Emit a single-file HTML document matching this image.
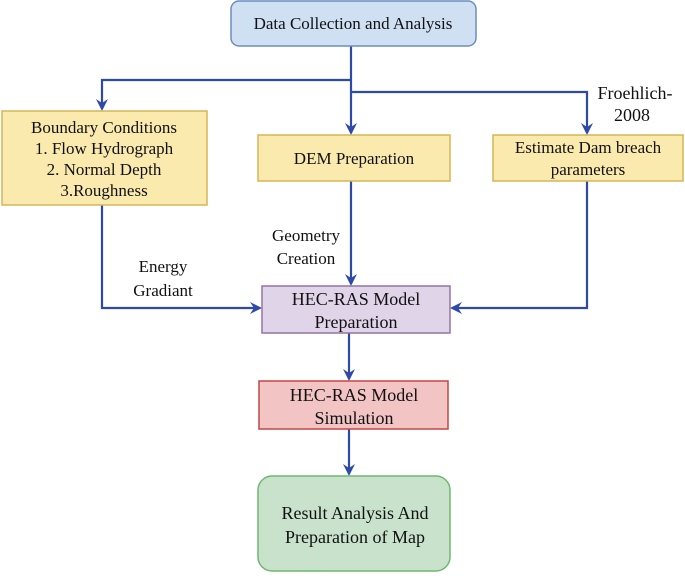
<!DOCTYPE html>
<html><head><style>
body{margin:0;background:#fff}
text{font-family:'Liberation Serif','Times New Roman',Times,serif}
</style></head><body>
<svg width="685" height="573" viewBox="0 0 685 573" xmlns="http://www.w3.org/2000/svg">
<defs><marker id="a" markerWidth="12" markerHeight="12" refX="10" refY="6" orient="auto" markerUnits="userSpaceOnUse"><path d="M0,0 L12,6 L0,12 L4,6 z" fill="#2e4aa8"/></marker></defs>
<g stroke="#2e4aa8" stroke-width="2.2" fill="none">
<path d="M351,46 V133" marker-end="url(#a)"/>
<path d="M351,80 H102 V109" marker-end="url(#a)"/>
<path d="M351,92 H587 V133" marker-end="url(#a)"/>
<path d="M351,181 V284" marker-end="url(#a)"/>
<path d="M102,205 V308 H260" marker-end="url(#a)"/>
<path d="M587,181 V308 H452" marker-end="url(#a)"/>
<path d="M349,333 V379" marker-end="url(#a)"/>
<path d="M349,429 V474" marker-end="url(#a)"/>
</g>
<rect x="231" y="1" width="245" height="45" rx="8" fill="#cfe0f3" stroke="#6c8ebf" stroke-width="1.5"/>
<rect x="2" y="111" width="205" height="94" fill="#fbeaae" stroke="#d6b656" stroke-width="1.5"/>
<rect x="258" y="135" width="192" height="46" fill="#fbeaae" stroke="#d6b656" stroke-width="1.5"/>
<rect x="493" y="135" width="190" height="46" fill="#fbeaae" stroke="#d6b656" stroke-width="1.5"/>
<rect x="262" y="286" width="188" height="47" fill="#e0d4e8" stroke="#9673a6" stroke-width="1.5"/>
<rect x="259" y="381" width="189" height="48" fill="#f2c4c4" stroke="#c74545" stroke-width="1.5"/>
<rect x="258" y="476" width="192" height="95" rx="14" fill="#c8e2cc" stroke="#6fb86f" stroke-width="1.5"/>
<g font-size="17" fill="#111" text-anchor="middle">
<text x="353" y="29">Data Collection and Analysis</text>
<text x="104" y="133">Boundary Conditions</text>
<text x="104" y="154">1. Flow Hydrograph</text>
<text x="104" y="175">2. Normal Depth</text>
<text x="104" y="196">3.Roughness</text>
<text x="354" y="164">DEM Preparation</text>
<text x="588" y="153">Estimate Dam breach</text>
<text x="588" y="175">parameters</text>
<text x="635" y="99" font-size="18">Froehlich-</text>
<text x="632" y="121" font-size="18">2008</text>
<text x="306" y="241">Geometry</text>
<text x="306" y="264">Creation</text>
<text x="163" y="272">Energy</text>
<text x="163" y="296">Gradiant</text>
<text x="356" y="305" font-size="18">HEC-RAS Model</text>
<text x="356" y="328" font-size="18">Preparation</text>
<text x="354" y="401" font-size="18">HEC-RAS Model</text>
<text x="354" y="424" font-size="18">Simulation</text>
<text x="355" y="519" font-size="18">Result Analysis And</text>
<text x="355" y="543" font-size="18">Preparation of Map</text>
</g>
</svg>
</body></html>
